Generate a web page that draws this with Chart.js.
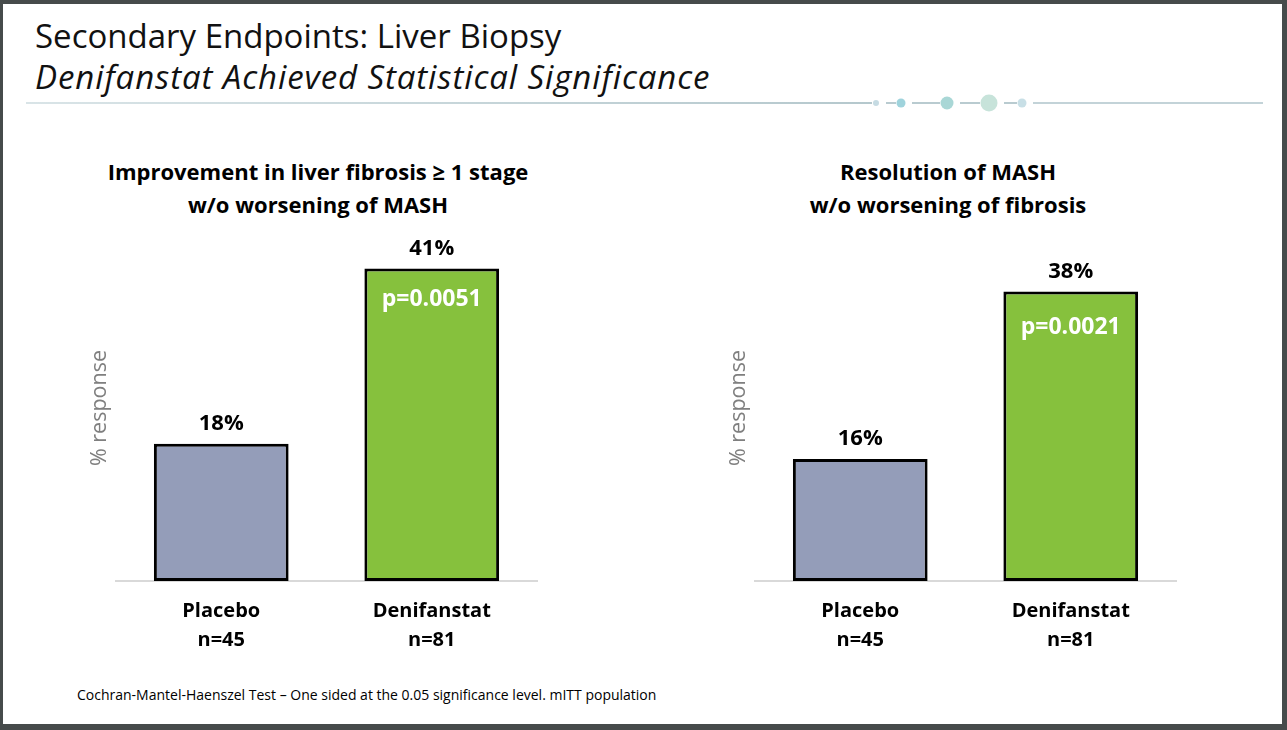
<!DOCTYPE html>
<html>
<head>
<meta charset="utf-8">
<script src="https://cdn.jsdelivr.net/npm/chart.js"></script>
<style>
  html, body { margin: 0; padding: 0; }
  body { width: 1287px; height: 730px; background: #464b4b; position: relative; overflow: hidden; font-family: "Open Sans", sans-serif; }
  #slide { position: absolute; left: 3px; top: 4px; width: 1279px; height: 720px; background: #fff; }
  .abs { position: absolute; white-space: nowrap; }
  #h1 { left: 35px; top: 13px; font-size: 33px; font-weight: 400; color: #111; }
  #h2 { left: 35px; top: 54px; font-size: 33px; font-weight: 400; font-style: italic; letter-spacing: 0.9px; color: #111; }
  .ctitle { font-size: 22px; font-weight: 700; text-align: center; line-height: 33px; color: #000; width: 500px; }
  #foot { left: 77px; top: 685px; font-size: 14px; color: #000; }
  canvas { position: absolute; }
</style>
</head>
<body>
<div id="slide"></div>
<div class="abs" id="h1">Secondary Endpoints: Liver Biopsy</div>
<div class="abs" id="h2">Denifanstat Achieved Statistical Significance</div>
<svg class="abs" style="left:0;top:90px" width="1287" height="28">
  <defs>
    <linearGradient id="lg" gradientUnits="userSpaceOnUse" x1="26" y1="0" x2="872" y2="0">
      <stop offset="0" stop-color="#d9e4e7"/><stop offset="1" stop-color="#b5c8cd"/>
    </linearGradient>
  </defs>
  <g stroke-width="2">
    <line x1="26" y1="13" x2="872" y2="13" stroke="url(#lg)"/>
    <line x1="886" y1="13" x2="896" y2="13" stroke="#b9cbd0"/>
    <line x1="912" y1="13" x2="940" y2="13" stroke="#b9cbd0"/>
    <line x1="960" y1="13" x2="980" y2="13" stroke="#b9cbd0"/>
    <line x1="1004" y1="13" x2="1017" y2="13" stroke="#b9cbd0"/>
    <line x1="1033" y1="13" x2="1263" y2="13" stroke="#c3d3d8"/>
  </g>
  <circle cx="876" cy="13" r="3" fill="#c6dbe3"/>
  <circle cx="901" cy="13" r="4.5" fill="#9fd3dc"/>
  <circle cx="947" cy="13" r="6.5" fill="#a9d7d6"/>
  <circle cx="989" cy="13" r="8.5" fill="#c7e3da"/>
  <circle cx="1022" cy="13" r="4.5" fill="#c8dfe6"/>
</svg>
<div class="abs ctitle" style="left:68px;top:155px">Improvement in liver fibrosis ≥ 1 stage<br>w/o worsening of MASH</div>
<div class="abs ctitle" style="left:698px;top:155px">Resolution of MASH<br>w/o worsening of fibrosis</div>
<canvas id="c1" style="left:60px;top:150px"></canvas>
<canvas id="c2" style="left:700px;top:150px"></canvas>
<div class="abs" id="foot">Cochran-Mantel-Haenszel Test – One sided at the 0.05 significance level. mITT population</div>

<script>
// ---------- data ----------
const groups = [["Placebo", "n=45"], ["Denifanstat", "n=81"]];
const fibrosisValues = [18, 41];
const mashValues = [16, 38];
const fibrosisP = "p=0.0051";
const mashP = "p=0.0021";
const barColors = ["#949db9", "#86c13d"];
const yMax = 50;
const FONT = '"Open Sans", sans-serif';

// labels on/in the bars + y title
const barLabels = {
  id: "barLabels",
  afterDatasetsDraw(chart, args, opts) {
    const ctx = chart.ctx;
    const meta = chart.getDatasetMeta(0);
    const vals = chart.data.datasets[0].data;
    ctx.save();
    ctx.textAlign = "center";
    ctx.textBaseline = "middle";
    meta.data.forEach((bar, i) => {
      ctx.fillStyle = "#000";
      ctx.font = "bold 22px " + FONT;
      ctx.fillText(vals[i] + "%", bar.x, bar.y - 20);
    });
    const top = meta.data[meta.data.length - 1];
    ctx.fillStyle = "#fff";
    ctx.font = "bold 23px " + FONT;
    ctx.fillText(opts.pText, top.x, top.y + opts.pOffset);
    // "% response"
    const a = chart.chartArea;
    ctx.translate(a.left - 16, 408 - 150);
    ctx.rotate(-Math.PI / 2);
    ctx.fillStyle = "#7f7f7f";
    ctx.font = "21.5px " + FONT;
    ctx.fillText("% response", 0, 0);
    ctx.restore();
  }
};

function makeChart(id, values, pText, pOffset, padLeft, padRight) {
  const canvas = document.getElementById(id);
  canvas.width = 500; canvas.height = 530;
  return new Chart(canvas, {
    type: "bar",
    data: {
      labels: groups,
      datasets: [{
        data: values,
        backgroundColor: barColors,
        borderColor: "#000",
        borderWidth: 3,
        borderSkipped: false,
        barPercentage: 0.64,
        categoryPercentage: 1
      }]
    },
    options: {
      responsive: false,
      animation: false,
      layout: { padding: { left: padLeft, right: padRight, top: 50, bottom: 0 } },
      plugins: { legend: { display: false }, tooltip: { enabled: false }, barLabels: { pText, pOffset } },
      scales: {
        x: {
          grid: { display: false, drawTicks: false },
          border: { display: true, color: "#d9d9d9", width: 2 },
          ticks: { color: "#000", font: { family: FONT, size: 20, weight: "bold", lineHeight: 1.45 }, padding: 16 },
          afterFit(scale) { scale.height = 99; }
        },
        y: { display: false, min: 0, max: yMax }
      }
    },
    plugins: [barLabels]
  });
}

makeChart("c1", fibrosisValues, fibrosisP, 31, 56, 23);
makeChart("c2", mashValues, mashP, 36, 55, 24);
</script>
</body>
</html>
